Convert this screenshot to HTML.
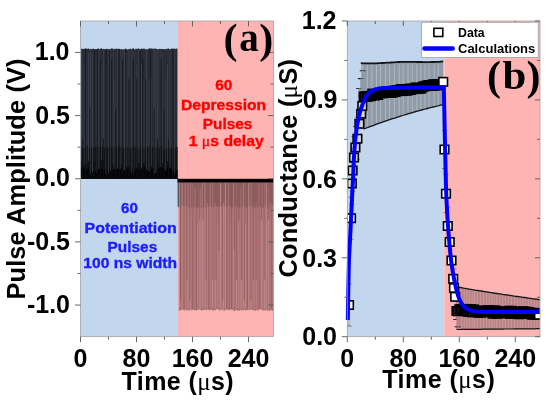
<!DOCTYPE html>
<html><head><meta charset="utf-8"><style>
html,body{margin:0;padding:0;background:#fff;width:550px;height:400px;overflow:hidden}
svg{display:block;filter:blur(0.3px)}
.s{font-family:"Liberation Sans",Arial,sans-serif;font-weight:bold}
.r{font-family:"Liberation Serif","Times New Roman",serif;font-weight:bold}
.m{font-family:"Liberation Serif","DejaVu Serif",serif;font-weight:normal}
</style></head><body>
<svg width="550" height="400" viewBox="0 0 550 400">
<rect width="550" height="400" fill="#fff"/>
<defs><clipPath id="cb"><rect x="347.3" y="21" width="192.7" height="315.7"/></clipPath><clipPath id="cc"><rect x="340" y="21" width="200" height="315.7"/></clipPath></defs>
<rect x="80.5" y="21.0" width="97.5" height="315.7" fill="#c2d6ee"/>
<rect x="178" y="21.0" width="95.5" height="315.7" fill="#ffb4b4"/>
<polygon fill="#282c34" points="81.2,178.7 81.2,48.5 82.8,48.9 82.8,48.7 84.4,49.0 84.4,49.0 86.0,48.3 86.0,48.2 87.6,49.3 87.6,48.5 89.2,48.5 89.2,49.5 90.8,48.8 90.8,49.3 92.4,48.8 92.4,49.0 94.0,48.4 94.0,49.0 95.6,49.3 95.6,48.9 97.2,49.2 97.2,49.1 98.8,48.3 98.8,49.2 100.4,49.0 100.4,48.6 102.0,48.2 102.0,49.3 103.6,48.8 103.6,49.1 105.2,49.3 105.2,49.1 106.8,49.4 106.8,48.7 108.4,49.2 108.4,48.8 110.0,49.4 110.0,49.3 111.6,48.3 111.6,48.4 113.2,48.5 113.2,49.5 114.8,48.8 114.8,49.0 116.4,48.6 116.4,48.9 118.0,48.7 118.0,48.7 119.6,49.0 119.6,49.0 121.2,49.4 121.2,49.1 122.8,49.4 122.8,49.3 124.4,49.5 124.4,49.1 126.0,48.4 126.0,49.3 127.6,49.5 127.6,49.4 129.2,48.9 129.2,49.1 130.8,48.5 130.8,49.3 132.4,48.9 132.4,48.6 134.0,48.3 134.0,49.3 135.6,49.5 135.6,48.3 137.2,49.2 137.2,48.7 138.8,48.4 138.8,48.6 140.4,49.2 140.4,49.3 142.0,48.3 142.0,49.0 143.6,48.3 143.6,49.1 145.2,48.6 145.2,49.3 146.8,49.5 146.8,48.9 148.4,49.5 148.4,48.6 150.0,48.3 150.0,49.0 151.6,48.2 151.6,48.5 153.2,48.7 153.2,49.0 154.8,48.4 154.8,48.3 156.4,49.3 156.4,48.6 158.0,49.4 158.0,49.4 159.6,48.7 159.6,48.8 161.2,48.9 161.2,49.0 162.8,49.0 162.8,48.9 164.4,49.0 164.4,49.4 166.0,48.9 166.0,48.8 167.6,49.1 167.6,48.5 169.2,48.6 169.2,49.5 170.8,48.9 170.8,48.9 172.4,48.2 172.4,48.7 174.0,49.0 174.0,48.2 175.6,49.0 175.6,49.0 177.2,48.3 177.2,49.0 177.5,48.8 177.5,48.8 177.5,178.7"/>
<polygon fill="#121316" points="81.2,178.7 81.2,148.2 82.5,146.9 83.8,148.3 85.1,148.5 86.4,145.6 87.7,145.7 89.0,148.2 90.3,149.4 91.6,146.5 92.9,147.3 94.2,147.9 95.5,146.8 96.8,147.0 98.1,146.8 99.4,147.0 100.7,147.9 102.0,146.7 103.3,147.0 104.6,148.6 105.9,145.6 107.2,147.8 108.5,148.4 109.8,146.7 111.1,146.4 112.4,148.7 113.7,146.5 115.0,146.2 116.3,147.2 117.6,148.3 118.9,145.9 120.2,146.8 121.5,146.8 122.8,148.8 124.1,147.3 125.4,148.9 126.7,146.2 128.0,146.8 129.3,148.1 130.6,149.0 131.9,147.3 133.2,146.4 134.5,146.0 135.8,147.6 137.1,146.3 138.4,148.7 139.7,148.9 141.0,146.2 142.3,146.6 143.6,148.7 144.9,148.1 146.2,148.7 147.5,146.9 148.8,146.0 150.1,146.7 151.4,148.7 152.7,146.6 154.0,146.9 155.3,147.2 156.6,147.2 157.9,147.1 159.2,149.2 160.5,146.1 161.8,145.5 163.1,149.3 164.4,149.0 165.7,149.4 167.0,147.2 168.3,149.3 169.6,149.2 170.9,146.4 172.2,148.5 173.5,148.8 174.8,148.2 176.1,147.6 177.4,146.7 177.5,147.5 177.5,178.7"/>
<polygon fill="#040404" points="81.2,178.7 81.2,168.2 82.5,167.6 83.8,166.8 85.1,169.4 86.4,167.9 87.7,170.6 89.0,166.7 90.3,171.0 91.6,170.0 92.9,171.1 94.2,171.0 95.5,171.0 96.8,169.4 98.1,166.6 99.4,170.2 100.7,167.4 102.0,168.0 103.3,169.8 104.6,169.1 105.9,168.6 107.2,171.2 108.5,169.6 109.8,168.2 111.1,167.8 112.4,170.8 113.7,168.9 115.0,170.4 116.3,168.3 117.6,167.5 118.9,169.2 120.2,170.6 121.5,167.4 122.8,170.5 124.1,171.1 125.4,170.5 126.7,170.6 128.0,166.5 129.3,169.6 130.6,170.8 131.9,166.7 133.2,167.9 134.5,167.8 135.8,169.1 137.1,168.6 138.4,168.9 139.7,170.4 141.0,166.5 142.3,166.8 143.6,167.1 144.9,167.1 146.2,166.8 147.5,171.4 148.8,170.8 150.1,166.9 151.4,169.0 152.7,168.1 154.0,168.1 155.3,168.3 156.6,169.7 157.9,169.4 159.2,168.3 160.5,167.5 161.8,168.1 163.1,167.1 164.4,169.3 165.7,170.1 167.0,168.4 168.3,166.9 169.6,167.4 170.9,168.4 172.2,169.5 173.5,170.4 174.8,168.4 176.1,170.5 177.4,169.6 177.5,169.0 177.5,178.7"/>
<line x1="81.8" y1="49.5" x2="81.8" y2="160.8" stroke="#373d46" stroke-width="0.8"/>
<line x1="84.1" y1="64.5" x2="84.1" y2="165.0" stroke="#373d46" stroke-width="0.8"/>
<line x1="86.3" y1="49.5" x2="86.3" y2="163.9" stroke="#373d46" stroke-width="0.8"/>
<line x1="88.4" y1="52.5" x2="88.4" y2="161.1" stroke="#414853" stroke-width="0.8"/>
<line x1="90.4" y1="49.5" x2="90.4" y2="174.1" stroke="#414853" stroke-width="0.8"/>
<line x1="92.6" y1="52.5" x2="92.6" y2="172.7" stroke="#414853" stroke-width="0.8"/>
<line x1="94.5" y1="64.5" x2="94.5" y2="162.0" stroke="#373d46" stroke-width="0.8"/>
<line x1="97.0" y1="52.5" x2="97.0" y2="172.7" stroke="#373d46" stroke-width="0.8"/>
<line x1="98.9" y1="49.5" x2="98.9" y2="169.0" stroke="#3b414b" stroke-width="0.8"/>
<line x1="101.5" y1="64.5" x2="101.5" y2="160.1" stroke="#3b414b" stroke-width="0.8"/>
<line x1="103.5" y1="49.5" x2="103.5" y2="160.7" stroke="#3b414b" stroke-width="0.8"/>
<line x1="105.9" y1="64.5" x2="105.9" y2="174.1" stroke="#3b414b" stroke-width="0.8"/>
<line x1="108.5" y1="49.5" x2="108.5" y2="173.5" stroke="#3b414b" stroke-width="0.8"/>
<line x1="110.3" y1="49.5" x2="110.3" y2="170.8" stroke="#373d46" stroke-width="0.8"/>
<line x1="113.1" y1="52.5" x2="113.1" y2="164.8" stroke="#3b414b" stroke-width="0.8"/>
<line x1="114.9" y1="79.5" x2="114.9" y2="169.0" stroke="#373d46" stroke-width="0.8"/>
<line x1="117.4" y1="49.5" x2="117.4" y2="168.9" stroke="#3b414b" stroke-width="0.8"/>
<line x1="120.2" y1="49.5" x2="120.2" y2="168.8" stroke="#373d46" stroke-width="0.8"/>
<line x1="122.2" y1="49.5" x2="122.2" y2="163.9" stroke="#3b414b" stroke-width="0.8"/>
<line x1="124.6" y1="49.5" x2="124.6" y2="169.9" stroke="#414853" stroke-width="0.8"/>
<line x1="126.7" y1="52.5" x2="126.7" y2="166.3" stroke="#414853" stroke-width="0.8"/>
<line x1="129.0" y1="49.5" x2="129.0" y2="166.0" stroke="#3b414b" stroke-width="0.8"/>
<line x1="131.8" y1="49.5" x2="131.8" y2="173.5" stroke="#3b414b" stroke-width="0.8"/>
<line x1="134.0" y1="52.5" x2="134.0" y2="172.1" stroke="#373d46" stroke-width="0.8"/>
<line x1="136.7" y1="64.5" x2="136.7" y2="167.7" stroke="#373d46" stroke-width="0.8"/>
<line x1="138.9" y1="49.5" x2="138.9" y2="162.6" stroke="#414853" stroke-width="0.8"/>
<line x1="141.5" y1="64.5" x2="141.5" y2="168.3" stroke="#414853" stroke-width="0.8"/>
<line x1="143.9" y1="79.5" x2="143.9" y2="163.0" stroke="#414853" stroke-width="0.8"/>
<line x1="146.4" y1="49.5" x2="146.4" y2="169.4" stroke="#414853" stroke-width="0.8"/>
<line x1="149.1" y1="79.5" x2="149.1" y2="171.1" stroke="#414853" stroke-width="0.8"/>
<line x1="151.6" y1="79.5" x2="151.6" y2="166.6" stroke="#373d46" stroke-width="0.8"/>
<line x1="154.0" y1="49.5" x2="154.0" y2="174.2" stroke="#414853" stroke-width="0.8"/>
<line x1="155.8" y1="49.5" x2="155.8" y2="172.9" stroke="#3b414b" stroke-width="0.8"/>
<line x1="157.8" y1="49.5" x2="157.8" y2="163.8" stroke="#414853" stroke-width="0.8"/>
<line x1="160.4" y1="49.5" x2="160.4" y2="166.7" stroke="#373d46" stroke-width="0.8"/>
<line x1="162.6" y1="52.5" x2="162.6" y2="163.3" stroke="#373d46" stroke-width="0.8"/>
<line x1="165.3" y1="79.5" x2="165.3" y2="170.4" stroke="#3b414b" stroke-width="0.8"/>
<line x1="167.6" y1="64.5" x2="167.6" y2="161.2" stroke="#414853" stroke-width="0.8"/>
<line x1="170.1" y1="49.5" x2="170.1" y2="167.5" stroke="#3b414b" stroke-width="0.8"/>
<line x1="172.8" y1="64.5" x2="172.8" y2="171.5" stroke="#373d46" stroke-width="0.8"/>
<line x1="174.7" y1="49.5" x2="174.7" y2="173.7" stroke="#3b414b" stroke-width="0.8"/>
<line x1="82.6" y1="138.8" x2="82.6" y2="178" stroke="#111316" stroke-width="0.8"/>
<line x1="85.7" y1="48.8" x2="85.7" y2="178" stroke="#111316" stroke-width="0.8"/>
<line x1="89.8" y1="108.8" x2="89.8" y2="178" stroke="#111316" stroke-width="0.8"/>
<line x1="94.4" y1="50.8" x2="94.4" y2="178" stroke="#111316" stroke-width="0.8"/>
<line x1="97.4" y1="48.8" x2="97.4" y2="178" stroke="#111316" stroke-width="0.8"/>
<line x1="100.7" y1="58.8" x2="100.7" y2="178" stroke="#111316" stroke-width="0.8"/>
<line x1="103.4" y1="138.8" x2="103.4" y2="178" stroke="#111316" stroke-width="0.8"/>
<line x1="106.1" y1="48.8" x2="106.1" y2="178" stroke="#111316" stroke-width="0.8"/>
<line x1="109.3" y1="50.8" x2="109.3" y2="178" stroke="#111316" stroke-width="0.8"/>
<line x1="111.8" y1="58.8" x2="111.8" y2="178" stroke="#111316" stroke-width="0.8"/>
<line x1="115.8" y1="108.8" x2="115.8" y2="178" stroke="#111316" stroke-width="0.8"/>
<line x1="119.1" y1="48.8" x2="119.1" y2="178" stroke="#111316" stroke-width="0.8"/>
<line x1="122.5" y1="58.8" x2="122.5" y2="178" stroke="#111316" stroke-width="0.8"/>
<line x1="125.9" y1="48.8" x2="125.9" y2="178" stroke="#111316" stroke-width="0.8"/>
<line x1="129.0" y1="78.8" x2="129.0" y2="178" stroke="#111316" stroke-width="0.8"/>
<line x1="133.3" y1="58.8" x2="133.3" y2="178" stroke="#111316" stroke-width="0.8"/>
<line x1="136.8" y1="78.8" x2="136.8" y2="178" stroke="#111316" stroke-width="0.8"/>
<line x1="140.1" y1="50.8" x2="140.1" y2="178" stroke="#111316" stroke-width="0.8"/>
<line x1="142.8" y1="58.8" x2="142.8" y2="178" stroke="#111316" stroke-width="0.8"/>
<line x1="145.6" y1="78.8" x2="145.6" y2="178" stroke="#111316" stroke-width="0.8"/>
<line x1="150.3" y1="48.8" x2="150.3" y2="178" stroke="#111316" stroke-width="0.8"/>
<line x1="154.1" y1="108.8" x2="154.1" y2="178" stroke="#111316" stroke-width="0.8"/>
<line x1="157.6" y1="138.8" x2="157.6" y2="178" stroke="#111316" stroke-width="0.8"/>
<line x1="161.0" y1="58.8" x2="161.0" y2="178" stroke="#111316" stroke-width="0.8"/>
<line x1="164.2" y1="108.8" x2="164.2" y2="178" stroke="#111316" stroke-width="0.8"/>
<line x1="168.4" y1="138.8" x2="168.4" y2="178" stroke="#111316" stroke-width="0.8"/>
<line x1="173.0" y1="48.8" x2="173.0" y2="178" stroke="#111316" stroke-width="0.8"/>
<polygon fill="#ab7273" points="178.8,182.0 178.8,311.1 180.4,310.5 180.4,310.2 182.0,309.2 182.0,310.1 183.6,309.8 183.6,310.6 185.2,310.5 185.2,310.2 186.8,309.4 186.8,310.4 188.4,310.4 188.4,309.4 190.0,311.0 190.0,310.4 191.6,309.3 191.6,311.1 193.2,309.3 193.2,309.7 194.8,310.6 194.8,310.3 196.4,310.2 196.4,310.4 198.0,310.0 198.0,309.7 199.6,309.4 199.6,309.2 201.2,310.6 201.2,310.7 202.8,310.2 202.8,310.6 204.4,309.8 204.4,309.6 206.0,309.8 206.0,310.9 207.6,309.1 207.6,310.1 209.2,309.5 209.2,310.7 210.8,309.8 210.8,309.7 212.4,309.9 212.4,310.2 214.0,310.7 214.0,309.8 215.6,310.9 215.6,309.2 217.2,309.6 217.2,309.2 218.8,309.2 218.8,310.7 220.4,310.6 220.4,309.4 222.0,309.4 222.0,309.9 223.6,310.6 223.6,310.8 225.2,310.6 225.2,310.3 226.8,309.3 226.8,309.9 228.4,309.4 228.4,310.2 230.0,310.3 230.0,309.4 231.6,309.6 231.6,310.7 233.2,309.1 233.2,310.8 234.8,311.0 234.8,311.1 236.4,309.8 236.4,310.2 238.0,310.3 238.0,310.4 239.6,311.1 239.6,310.5 241.2,309.7 241.2,310.9 242.8,310.1 242.8,310.3 244.4,310.6 244.4,309.0 246.0,310.7 246.0,310.5 247.6,310.1 247.6,310.2 249.2,310.0 249.2,309.4 250.8,310.2 250.8,309.1 252.4,310.1 252.4,310.4 254.0,310.0 254.0,310.2 255.6,311.1 255.6,311.0 257.2,309.3 257.2,310.7 258.8,310.4 258.8,309.1 260.4,309.8 260.4,309.5 262.0,309.2 262.0,310.2 263.6,311.0 263.6,309.7 265.2,310.9 265.2,310.5 266.8,309.3 266.8,310.9 268.4,310.3 268.4,311.0 270.0,310.6 270.0,310.6 271.6,309.8 271.6,310.8 273.2,311.0 273.2,310.9 273.3,310.0 273.3,310.0 273.3,182.0"/>
<polygon fill="#8f5e5f" points="178.8,182.0 178.8,208.5 180.1,207.4 181.4,205.9 182.7,205.7 184.0,205.8 185.3,206.3 186.6,206.1 187.9,207.5 189.2,208.3 190.5,207.6 191.8,207.2 193.1,208.1 194.4,206.7 195.7,207.4 197.0,208.5 198.3,207.1 199.6,206.2 200.9,209.1 202.2,208.4 203.5,207.0 204.8,207.0 206.1,207.6 207.4,207.9 208.7,206.4 210.0,205.5 211.3,206.3 212.6,208.6 213.9,206.1 215.2,207.3 216.5,206.3 217.8,206.3 219.1,206.2 220.4,207.1 221.7,206.2 223.0,205.6 224.3,205.9 225.6,206.2 226.9,207.5 228.2,205.7 229.5,205.6 230.8,207.3 232.1,207.1 233.4,208.3 234.7,205.7 236.0,207.1 237.3,207.1 238.6,205.6 239.9,209.4 241.2,206.4 242.5,205.9 243.8,207.4 245.1,206.2 246.4,208.0 247.7,206.9 249.0,206.0 250.3,205.7 251.6,208.4 252.9,206.6 254.2,208.7 255.5,207.4 256.8,209.2 258.1,206.7 259.4,206.5 260.7,206.6 262.0,208.8 263.3,208.0 264.6,206.9 265.9,205.9 267.2,208.2 268.5,209.4 269.8,207.9 271.1,205.5 272.4,205.6 273.3,207.5 273.3,182.0"/>
<line x1="179.5" y1="183.0" x2="179.5" y2="307.2" stroke="#c99293" stroke-width="0.8"/>
<line x1="182.2" y1="183.0" x2="182.2" y2="309.7" stroke="#c48c8d" stroke-width="0.8"/>
<line x1="184.9" y1="183.0" x2="184.9" y2="309.8" stroke="#c99293" stroke-width="0.8"/>
<line x1="187.9" y1="183.0" x2="187.9" y2="307.9" stroke="#c99293" stroke-width="0.8"/>
<line x1="190.5" y1="183.0" x2="190.5" y2="309.8" stroke="#c48c8d" stroke-width="0.8"/>
<line x1="192.6" y1="183.0" x2="192.6" y2="308.5" stroke="#c48c8d" stroke-width="0.8"/>
<line x1="195.2" y1="188.0" x2="195.2" y2="309.3" stroke="#bd8586" stroke-width="0.8"/>
<line x1="197.6" y1="223.0" x2="197.6" y2="309.6" stroke="#bd8586" stroke-width="0.8"/>
<line x1="200.0" y1="188.0" x2="200.0" y2="309.8" stroke="#c99293" stroke-width="0.8"/>
<line x1="202.3" y1="183.0" x2="202.3" y2="307.7" stroke="#c99293" stroke-width="0.8"/>
<line x1="205.1" y1="183.0" x2="205.1" y2="307.8" stroke="#c99293" stroke-width="0.8"/>
<line x1="207.3" y1="203.0" x2="207.3" y2="309.7" stroke="#bd8586" stroke-width="0.8"/>
<line x1="210.0" y1="183.0" x2="210.0" y2="307.5" stroke="#c48c8d" stroke-width="0.8"/>
<line x1="212.7" y1="183.0" x2="212.7" y2="307.3" stroke="#c99293" stroke-width="0.8"/>
<line x1="215.4" y1="203.0" x2="215.4" y2="308.0" stroke="#c48c8d" stroke-width="0.8"/>
<line x1="218.0" y1="223.0" x2="218.0" y2="307.2" stroke="#bd8586" stroke-width="0.8"/>
<line x1="220.6" y1="183.0" x2="220.6" y2="308.4" stroke="#c99293" stroke-width="0.8"/>
<line x1="223.5" y1="203.0" x2="223.5" y2="310.0" stroke="#c99293" stroke-width="0.8"/>
<line x1="225.5" y1="183.0" x2="225.5" y2="309.4" stroke="#c99293" stroke-width="0.8"/>
<line x1="228.4" y1="183.0" x2="228.4" y2="307.9" stroke="#bd8586" stroke-width="0.8"/>
<line x1="230.8" y1="223.0" x2="230.8" y2="307.6" stroke="#bd8586" stroke-width="0.8"/>
<line x1="233.5" y1="183.0" x2="233.5" y2="307.4" stroke="#bd8586" stroke-width="0.8"/>
<line x1="236.5" y1="183.0" x2="236.5" y2="307.9" stroke="#c48c8d" stroke-width="0.8"/>
<line x1="238.7" y1="223.0" x2="238.7" y2="308.5" stroke="#bd8586" stroke-width="0.8"/>
<line x1="241.2" y1="188.0" x2="241.2" y2="309.4" stroke="#c99293" stroke-width="0.8"/>
<line x1="243.8" y1="183.0" x2="243.8" y2="307.5" stroke="#c99293" stroke-width="0.8"/>
<line x1="245.8" y1="223.0" x2="245.8" y2="308.8" stroke="#c48c8d" stroke-width="0.8"/>
<line x1="248.7" y1="183.0" x2="248.7" y2="309.8" stroke="#c48c8d" stroke-width="0.8"/>
<line x1="251.0" y1="183.0" x2="251.0" y2="308.2" stroke="#c99293" stroke-width="0.8"/>
<line x1="253.8" y1="203.0" x2="253.8" y2="307.3" stroke="#bd8586" stroke-width="0.8"/>
<line x1="256.3" y1="203.0" x2="256.3" y2="308.0" stroke="#bd8586" stroke-width="0.8"/>
<line x1="258.9" y1="183.0" x2="258.9" y2="307.9" stroke="#c48c8d" stroke-width="0.8"/>
<line x1="261.8" y1="183.0" x2="261.8" y2="307.6" stroke="#c99293" stroke-width="0.8"/>
<line x1="264.4" y1="183.0" x2="264.4" y2="309.2" stroke="#c99293" stroke-width="0.8"/>
<line x1="266.4" y1="183.0" x2="266.4" y2="308.5" stroke="#c48c8d" stroke-width="0.8"/>
<line x1="268.5" y1="188.0" x2="268.5" y2="309.2" stroke="#bd8586" stroke-width="0.8"/>
<line x1="270.9" y1="203.0" x2="270.9" y2="308.8" stroke="#c48c8d" stroke-width="0.8"/>
<line x1="180.5" y1="183" x2="180.5" y2="300.0" stroke="#8a5859" stroke-width="0.7"/>
<line x1="184.2" y1="183" x2="184.2" y2="309.0" stroke="#8a5859" stroke-width="0.7"/>
<line x1="187.0" y1="183" x2="187.0" y2="280.0" stroke="#8a5859" stroke-width="0.7"/>
<line x1="190.0" y1="183" x2="190.0" y2="300.0" stroke="#8a5859" stroke-width="0.7"/>
<line x1="192.6" y1="183" x2="192.6" y2="309.0" stroke="#8a5859" stroke-width="0.7"/>
<line x1="196.1" y1="183" x2="196.1" y2="309.0" stroke="#8a5859" stroke-width="0.7"/>
<line x1="199.7" y1="183" x2="199.7" y2="220.0" stroke="#8a5859" stroke-width="0.7"/>
<line x1="203.0" y1="183" x2="203.0" y2="220.0" stroke="#8a5859" stroke-width="0.7"/>
<line x1="206.1" y1="183" x2="206.1" y2="280.0" stroke="#8a5859" stroke-width="0.7"/>
<line x1="209.0" y1="183" x2="209.0" y2="309.0" stroke="#8a5859" stroke-width="0.7"/>
<line x1="212.8" y1="183" x2="212.8" y2="280.0" stroke="#8a5859" stroke-width="0.7"/>
<line x1="215.9" y1="183" x2="215.9" y2="280.0" stroke="#8a5859" stroke-width="0.7"/>
<line x1="218.9" y1="183" x2="218.9" y2="250.0" stroke="#8a5859" stroke-width="0.7"/>
<line x1="222.8" y1="183" x2="222.8" y2="300.0" stroke="#8a5859" stroke-width="0.7"/>
<line x1="226.7" y1="183" x2="226.7" y2="309.0" stroke="#8a5859" stroke-width="0.7"/>
<line x1="229.2" y1="183" x2="229.2" y2="309.0" stroke="#8a5859" stroke-width="0.7"/>
<line x1="231.5" y1="183" x2="231.5" y2="309.0" stroke="#8a5859" stroke-width="0.7"/>
<line x1="234.2" y1="183" x2="234.2" y2="250.0" stroke="#8a5859" stroke-width="0.7"/>
<line x1="236.5" y1="183" x2="236.5" y2="280.0" stroke="#8a5859" stroke-width="0.7"/>
<line x1="238.8" y1="183" x2="238.8" y2="220.0" stroke="#8a5859" stroke-width="0.7"/>
<line x1="241.4" y1="183" x2="241.4" y2="280.0" stroke="#8a5859" stroke-width="0.7"/>
<line x1="244.3" y1="183" x2="244.3" y2="300.0" stroke="#8a5859" stroke-width="0.7"/>
<line x1="247.4" y1="183" x2="247.4" y2="309.0" stroke="#8a5859" stroke-width="0.7"/>
<line x1="250.9" y1="183" x2="250.9" y2="300.0" stroke="#8a5859" stroke-width="0.7"/>
<line x1="253.4" y1="183" x2="253.4" y2="280.0" stroke="#8a5859" stroke-width="0.7"/>
<line x1="256.1" y1="183" x2="256.1" y2="280.0" stroke="#8a5859" stroke-width="0.7"/>
<line x1="259.1" y1="183" x2="259.1" y2="309.0" stroke="#8a5859" stroke-width="0.7"/>
<line x1="261.6" y1="183" x2="261.6" y2="220.0" stroke="#8a5859" stroke-width="0.7"/>
<line x1="264.3" y1="183" x2="264.3" y2="280.0" stroke="#8a5859" stroke-width="0.7"/>
<line x1="268.3" y1="183" x2="268.3" y2="220.0" stroke="#8a5859" stroke-width="0.7"/>
<line x1="271.2" y1="183" x2="271.2" y2="309.0" stroke="#8a5859" stroke-width="0.7"/>
<rect x="177.6" y="178.7" width="1.6" height="28" fill="#55595f"/>
<rect x="177.5" y="178.8" width="96" height="3.6" fill="#000"/>
<rect x="80.5" y="21.0" width="193.0" height="315.7" fill="none" stroke="#a3a3a3" stroke-width="0.8"/>
<line x1="75.0" y1="305.05" x2="80.5" y2="305.05" stroke="#5a5a5a" stroke-width="0.9"/>
<line x1="268.0" y1="305.05" x2="273.5" y2="305.05" stroke="#5a5a5a" stroke-width="0.9"/>
<line x1="75.0" y1="241.90" x2="80.5" y2="241.90" stroke="#5a5a5a" stroke-width="0.9"/>
<line x1="268.0" y1="241.90" x2="273.5" y2="241.90" stroke="#5a5a5a" stroke-width="0.9"/>
<line x1="75.0" y1="178.75" x2="80.5" y2="178.75" stroke="#5a5a5a" stroke-width="0.9"/>
<line x1="268.0" y1="178.75" x2="273.5" y2="178.75" stroke="#5a5a5a" stroke-width="0.9"/>
<line x1="75.0" y1="115.60" x2="80.5" y2="115.60" stroke="#5a5a5a" stroke-width="0.9"/>
<line x1="268.0" y1="115.60" x2="273.5" y2="115.60" stroke="#5a5a5a" stroke-width="0.9"/>
<line x1="75.0" y1="52.45" x2="80.5" y2="52.45" stroke="#5a5a5a" stroke-width="0.9"/>
<line x1="268.0" y1="52.45" x2="273.5" y2="52.45" stroke="#5a5a5a" stroke-width="0.9"/>
<line x1="77.5" y1="273.48" x2="80.5" y2="273.48" stroke="#5a5a5a" stroke-width="0.9"/>
<line x1="270.5" y1="273.48" x2="273.5" y2="273.48" stroke="#5a5a5a" stroke-width="0.9"/>
<line x1="77.5" y1="210.32" x2="80.5" y2="210.32" stroke="#5a5a5a" stroke-width="0.9"/>
<line x1="270.5" y1="210.32" x2="273.5" y2="210.32" stroke="#5a5a5a" stroke-width="0.9"/>
<line x1="77.5" y1="147.18" x2="80.5" y2="147.18" stroke="#5a5a5a" stroke-width="0.9"/>
<line x1="270.5" y1="147.18" x2="273.5" y2="147.18" stroke="#5a5a5a" stroke-width="0.9"/>
<line x1="77.5" y1="84.03" x2="80.5" y2="84.03" stroke="#5a5a5a" stroke-width="0.9"/>
<line x1="270.5" y1="84.03" x2="273.5" y2="84.03" stroke="#5a5a5a" stroke-width="0.9"/>
<line x1="80.50" y1="336.7" x2="80.50" y2="342.2" stroke="#5a5a5a" stroke-width="0.9"/>
<line x1="80.50" y1="21.0" x2="80.50" y2="26.5" stroke="#5a5a5a" stroke-width="0.9"/>
<line x1="136.50" y1="336.7" x2="136.50" y2="342.2" stroke="#5a5a5a" stroke-width="0.9"/>
<line x1="136.50" y1="21.0" x2="136.50" y2="26.5" stroke="#5a5a5a" stroke-width="0.9"/>
<line x1="192.50" y1="336.7" x2="192.50" y2="342.2" stroke="#5a5a5a" stroke-width="0.9"/>
<line x1="192.50" y1="21.0" x2="192.50" y2="26.5" stroke="#5a5a5a" stroke-width="0.9"/>
<line x1="248.50" y1="336.7" x2="248.50" y2="342.2" stroke="#5a5a5a" stroke-width="0.9"/>
<line x1="248.50" y1="21.0" x2="248.50" y2="26.5" stroke="#5a5a5a" stroke-width="0.9"/>
<line x1="108.50" y1="336.7" x2="108.50" y2="339.7" stroke="#5a5a5a" stroke-width="0.9"/>
<line x1="108.50" y1="21.0" x2="108.50" y2="24.0" stroke="#5a5a5a" stroke-width="0.9"/>
<line x1="164.50" y1="336.7" x2="164.50" y2="339.7" stroke="#5a5a5a" stroke-width="0.9"/>
<line x1="164.50" y1="21.0" x2="164.50" y2="24.0" stroke="#5a5a5a" stroke-width="0.9"/>
<line x1="220.50" y1="336.7" x2="220.50" y2="339.7" stroke="#5a5a5a" stroke-width="0.9"/>
<line x1="220.50" y1="21.0" x2="220.50" y2="24.0" stroke="#5a5a5a" stroke-width="0.9"/>
<rect x="347.3" y="21.0" width="97.0" height="315.7" fill="#c2d6ee"/>
<rect x="444.3" y="21.0" width="95.69999999999999" height="315.7" fill="#ffb4b4"/>
<g clip-path="url(#cb)">
<polygon fill="#909ba7" points="361.2,63.2 363.6,63.3 365.1,63.3 366.5,63.3 367.9,63.3 369.4,63.3 370.8,63.3 372.3,63.3 373.7,63.3 375.2,63.3 376.6,63.3 378.1,63.2 379.5,63.1 381.0,63.1 382.4,63.0 383.9,62.9 385.3,62.8 386.8,62.7 388.2,62.7 389.7,62.6 391.1,62.5 392.6,62.4 394.0,62.3 395.5,62.2 396.9,62.1 398.4,62.0 399.8,62.0 401.3,61.9 402.7,61.9 404.2,61.9 405.6,61.8 407.1,61.8 408.5,61.8 410.0,61.8 411.4,61.8 412.9,61.9 414.3,61.9 415.8,61.9 417.2,62.0 418.7,62.0 420.1,62.0 421.6,62.0 423.0,62.1 424.5,62.1 425.9,62.1 427.4,62.1 428.8,62.1 430.3,62.1 431.7,62.0 433.2,62.0 434.6,62.0 436.1,61.9 437.5,61.8 439.0,61.8 440.4,61.7 443.2,61.5 443.2,104.6 440.4,105.2 439.0,105.6 437.5,105.9 436.1,106.3 434.6,106.6 433.2,107.0 431.7,107.4 430.3,107.7 428.8,108.1 427.4,108.5 425.9,108.9 424.5,109.2 423.0,109.6 421.6,110.0 420.1,110.4 418.7,110.8 417.2,111.2 415.8,111.6 414.3,112.0 412.9,112.5 411.4,112.9 410.0,113.3 408.5,113.7 407.1,114.2 405.6,114.6 404.2,115.0 402.7,115.5 401.3,115.9 399.8,116.4 398.4,116.9 396.9,117.3 395.5,117.8 394.0,118.3 392.6,118.7 391.1,119.2 389.7,119.7 388.2,120.2 386.8,120.7 385.3,121.2 383.9,121.7 382.4,122.2 381.0,122.7 379.5,123.2 378.1,123.7 376.6,124.2 375.2,124.7 373.7,125.3 372.3,125.8 370.8,126.3 369.4,126.9 367.9,127.4 366.5,128.0 365.1,128.5 363.6,129.1 361.2,129.1"/>
<line x1="363.0" y1="64.5" x2="363.0" y2="128.3" stroke="#adb8c4" stroke-width="1.0"/>
<line x1="367.3" y1="64.5" x2="367.3" y2="126.7" stroke="#adb8c4" stroke-width="1.0"/>
<line x1="371.8" y1="64.5" x2="371.8" y2="125.0" stroke="#adb8c4" stroke-width="1.0"/>
<line x1="376.5" y1="64.5" x2="376.5" y2="123.3" stroke="#adb8c4" stroke-width="1.0"/>
<line x1="380.6" y1="64.5" x2="380.6" y2="121.8" stroke="#adb8c4" stroke-width="1.0"/>
<line x1="385.5" y1="64.5" x2="385.5" y2="120.1" stroke="#adb8c4" stroke-width="1.0"/>
<line x1="389.6" y1="64.5" x2="389.6" y2="118.7" stroke="#adb8c4" stroke-width="1.0"/>
<line x1="394.3" y1="64.5" x2="394.3" y2="117.2" stroke="#adb8c4" stroke-width="1.0"/>
<line x1="399.2" y1="64.5" x2="399.2" y2="115.6" stroke="#adb8c4" stroke-width="1.0"/>
<line x1="403.2" y1="64.5" x2="403.2" y2="114.4" stroke="#adb8c4" stroke-width="1.0"/>
<line x1="408.0" y1="64.5" x2="408.0" y2="112.9" stroke="#adb8c4" stroke-width="1.0"/>
<line x1="412.3" y1="64.5" x2="412.3" y2="111.6" stroke="#adb8c4" stroke-width="1.0"/>
<line x1="416.9" y1="64.5" x2="416.9" y2="110.3" stroke="#adb8c4" stroke-width="1.0"/>
<line x1="420.9" y1="64.5" x2="420.9" y2="109.2" stroke="#adb8c4" stroke-width="1.0"/>
<line x1="425.0" y1="64.5" x2="425.0" y2="108.1" stroke="#adb8c4" stroke-width="1.0"/>
<line x1="429.1" y1="64.5" x2="429.1" y2="107.0" stroke="#adb8c4" stroke-width="1.0"/>
<line x1="434.1" y1="64.5" x2="434.1" y2="105.8" stroke="#adb8c4" stroke-width="1.0"/>
<line x1="438.3" y1="64.5" x2="438.3" y2="104.7" stroke="#adb8c4" stroke-width="1.0"/>
<polyline fill="none" stroke="#151515" stroke-width="1.8" stroke-linejoin="round" points="360.8,63.2 363.6,63.3 365.1,63.3 366.5,63.3 367.9,63.3 369.4,63.3 370.8,63.3 372.3,63.3 373.7,63.3 375.2,63.3 376.6,63.3 378.1,63.2 379.5,63.1 381.0,63.1 382.4,63.0 383.9,62.9 385.3,62.8 386.8,62.7 388.2,62.7 389.7,62.6 391.1,62.5 392.6,62.4 394.0,62.3 395.5,62.2 396.9,62.1 398.4,62.0 399.8,62.0 401.3,61.9 402.7,61.9 404.2,61.9 405.6,61.8 407.1,61.8 408.5,61.8 410.0,61.8 411.4,61.8 412.9,61.9 414.3,61.9 415.8,61.9 417.2,62.0 418.7,62.0 420.1,62.0 421.6,62.0 423.0,62.1 424.5,62.1 425.9,62.1 427.4,62.1 428.8,62.1 430.3,62.1 431.7,62.0 433.2,62.0 434.6,62.0 436.1,61.9 437.5,61.8 439.0,61.8 440.4,61.7 443.2,61.5"/>
<polyline fill="none" stroke="#151515" stroke-width="1.3" stroke-linejoin="round" points="363.6,129.1 365.1,128.5 366.5,128.0 367.9,127.4 369.4,126.9 370.8,126.3 372.3,125.8 373.7,125.3 375.2,124.7 376.6,124.2 378.1,123.7 379.5,123.2 381.0,122.7 382.4,122.2 383.9,121.7 385.3,121.2 386.8,120.7 388.2,120.2 389.7,119.7 391.1,119.2 392.6,118.7 394.0,118.3 395.5,117.8 396.9,117.3 398.4,116.9 399.8,116.4 401.3,115.9 402.7,115.5 404.2,115.0 405.6,114.6 407.1,114.2 408.5,113.7 410.0,113.3 411.4,112.9 412.9,112.5 414.3,112.0 415.8,111.6 417.2,111.2 418.7,110.8 420.1,110.4 421.6,110.0 423.0,109.6 424.5,109.2 425.9,108.9 427.4,108.5 428.8,108.1 430.3,107.7 431.7,107.4 433.2,107.0 434.6,106.6 436.1,106.3 437.5,105.9 439.0,105.6 440.4,105.2 443.2,104.6"/>
<line x1="359.7" y1="70.7" x2="365.3" y2="70.7" stroke="#222" stroke-width="1.1"/>
<rect x="362.0" y="70.7" width="1.6" height="24.3" fill="#909ba7"/>
<line x1="357.9" y1="78.6" x2="363.5" y2="78.6" stroke="#222" stroke-width="1.1"/>
<rect x="360.2" y="78.6" width="3.4" height="16.4" fill="#909ba7"/>
<line x1="356.2" y1="88.5" x2="361.8" y2="88.5" stroke="#222" stroke-width="1.1"/>
<rect x="358.5" y="88.5" width="5.1" height="6.5" fill="#909ba7"/>
<line x1="346.5" y1="284.0" x2="351.5" y2="284.0" stroke="#555" stroke-width="0.8"/>
<line x1="346.5" y1="326.0" x2="351.5" y2="326.0" stroke="#555" stroke-width="0.8"/>
<line x1="349.0" y1="284.0" x2="349.0" y2="326.0" stroke="#777" stroke-width="0.5"/>
<line x1="348.5" y1="197.2" x2="353.5" y2="197.2" stroke="#555" stroke-width="0.8"/>
<line x1="348.5" y1="239.2" x2="353.5" y2="239.2" stroke="#555" stroke-width="0.8"/>
<line x1="351.0" y1="197.2" x2="351.0" y2="239.2" stroke="#777" stroke-width="0.5"/>
<line x1="349.3" y1="162.5" x2="354.3" y2="162.5" stroke="#555" stroke-width="0.8"/>
<line x1="349.3" y1="204.5" x2="354.3" y2="204.5" stroke="#555" stroke-width="0.8"/>
<line x1="351.8" y1="162.5" x2="351.8" y2="204.5" stroke="#777" stroke-width="0.5"/>
<line x1="350.1" y1="149.5" x2="355.1" y2="149.5" stroke="#555" stroke-width="0.8"/>
<line x1="350.1" y1="191.5" x2="355.1" y2="191.5" stroke="#555" stroke-width="0.8"/>
<line x1="352.6" y1="149.5" x2="352.6" y2="191.5" stroke="#777" stroke-width="0.5"/>
<line x1="351.5" y1="136.5" x2="356.5" y2="136.5" stroke="#555" stroke-width="0.8"/>
<line x1="351.5" y1="178.5" x2="356.5" y2="178.5" stroke="#555" stroke-width="0.8"/>
<line x1="354.0" y1="136.5" x2="354.0" y2="178.5" stroke="#777" stroke-width="0.5"/>
<line x1="352.9" y1="126.5" x2="357.9" y2="126.5" stroke="#555" stroke-width="0.8"/>
<line x1="352.9" y1="168.5" x2="357.9" y2="168.5" stroke="#555" stroke-width="0.8"/>
<line x1="355.4" y1="126.5" x2="355.4" y2="168.5" stroke="#777" stroke-width="0.5"/>
<line x1="354.9" y1="117.7" x2="359.9" y2="117.7" stroke="#555" stroke-width="0.8"/>
<line x1="354.9" y1="159.7" x2="359.9" y2="159.7" stroke="#555" stroke-width="0.8"/>
<line x1="357.4" y1="117.7" x2="357.4" y2="159.7" stroke="#777" stroke-width="0.5"/>
<polygon fill="#b98385" points="458.6,287.0 459.4,287.2 460.8,287.5 462.3,287.8 463.7,288.1 465.2,288.3 466.6,288.6 468.1,288.8 469.5,289.1 471.0,289.3 472.4,289.6 473.9,289.8 475.3,290.1 476.8,290.3 478.2,290.5 479.7,290.8 481.1,291.0 482.6,291.2 484.0,291.5 485.5,291.7 486.9,291.9 488.4,292.1 489.8,292.4 491.3,292.6 492.7,292.8 494.2,293.0 495.6,293.3 497.1,293.5 498.5,293.7 500.0,293.9 501.4,294.1 502.9,294.4 504.3,294.6 505.8,294.8 507.2,295.0 508.7,295.2 510.1,295.4 511.6,295.6 513.0,295.9 514.5,296.1 515.9,296.3 517.4,296.5 518.8,296.7 520.3,296.9 521.7,297.1 523.2,297.3 524.6,297.5 526.1,297.7 527.6,298.0 529.0,298.2 530.5,298.4 531.9,298.6 533.4,298.8 534.8,299.0 536.3,299.2 541.0,299.9 541.0,328.7 536.3,328.7 534.8,328.8 533.4,328.8 531.9,328.8 530.5,328.8 529.0,328.8 527.6,328.8 526.1,328.8 524.6,328.9 523.2,328.9 521.7,328.9 520.3,328.9 518.8,328.9 517.4,328.9 515.9,328.9 514.5,328.9 513.0,329.0 511.6,329.0 510.1,329.0 508.7,329.0 507.2,329.0 505.8,329.0 504.3,329.0 502.9,329.1 501.4,329.1 500.0,329.1 498.5,329.1 497.1,329.1 495.6,329.1 494.2,329.1 492.7,329.2 491.3,329.2 489.8,329.2 488.4,329.2 486.9,329.2 485.5,329.2 484.0,329.2 482.6,329.2 481.1,329.3 479.7,329.3 478.2,329.3 476.8,329.3 475.3,329.3 473.9,329.3 472.4,329.3 471.0,329.4 469.5,329.4 468.1,329.4 466.6,329.4 465.2,329.4 463.7,329.4 462.3,329.4 460.8,329.5 459.4,329.5 457.9,329.5 456.5,329.5 456.0,329.5"/>
<line x1="458.5" y1="288.2" x2="458.5" y2="328.0" stroke="#d2a0a1" stroke-width="0.8"/>
<line x1="461.2" y1="288.8" x2="461.2" y2="328.0" stroke="#d2a0a1" stroke-width="0.8"/>
<line x1="464.2" y1="289.3" x2="464.2" y2="328.0" stroke="#d2a0a1" stroke-width="0.8"/>
<line x1="466.9" y1="289.8" x2="466.9" y2="328.0" stroke="#d2a0a1" stroke-width="0.8"/>
<line x1="469.5" y1="290.3" x2="469.5" y2="328.0" stroke="#d2a0a1" stroke-width="0.8"/>
<line x1="472.2" y1="290.7" x2="472.2" y2="328.0" stroke="#d2a0a1" stroke-width="0.8"/>
<line x1="474.6" y1="291.1" x2="474.6" y2="328.0" stroke="#d2a0a1" stroke-width="0.8"/>
<line x1="477.2" y1="291.6" x2="477.2" y2="328.0" stroke="#d2a0a1" stroke-width="0.8"/>
<line x1="480.4" y1="292.1" x2="480.4" y2="328.0" stroke="#d2a0a1" stroke-width="0.8"/>
<line x1="483.6" y1="292.6" x2="483.6" y2="328.0" stroke="#d2a0a1" stroke-width="0.8"/>
<line x1="486.4" y1="293.0" x2="486.4" y2="328.0" stroke="#d2a0a1" stroke-width="0.8"/>
<line x1="489.2" y1="293.5" x2="489.2" y2="328.0" stroke="#d2a0a1" stroke-width="0.8"/>
<line x1="491.8" y1="293.9" x2="491.8" y2="328.0" stroke="#d2a0a1" stroke-width="0.8"/>
<line x1="494.2" y1="294.2" x2="494.2" y2="328.0" stroke="#d2a0a1" stroke-width="0.8"/>
<line x1="496.7" y1="294.6" x2="496.7" y2="328.0" stroke="#d2a0a1" stroke-width="0.8"/>
<line x1="499.7" y1="295.1" x2="499.7" y2="328.0" stroke="#d2a0a1" stroke-width="0.8"/>
<line x1="502.8" y1="295.5" x2="502.8" y2="328.0" stroke="#d2a0a1" stroke-width="0.8"/>
<line x1="505.4" y1="295.9" x2="505.4" y2="328.0" stroke="#d2a0a1" stroke-width="0.8"/>
<line x1="508.4" y1="296.4" x2="508.4" y2="328.0" stroke="#d2a0a1" stroke-width="0.8"/>
<line x1="511.4" y1="296.8" x2="511.4" y2="328.0" stroke="#d2a0a1" stroke-width="0.8"/>
<line x1="514.4" y1="297.2" x2="514.4" y2="328.0" stroke="#d2a0a1" stroke-width="0.8"/>
<line x1="517.3" y1="297.7" x2="517.3" y2="328.0" stroke="#d2a0a1" stroke-width="0.8"/>
<line x1="520.2" y1="298.1" x2="520.2" y2="328.0" stroke="#d2a0a1" stroke-width="0.8"/>
<line x1="522.9" y1="298.5" x2="522.9" y2="328.0" stroke="#d2a0a1" stroke-width="0.8"/>
<line x1="525.8" y1="298.9" x2="525.8" y2="328.0" stroke="#d2a0a1" stroke-width="0.8"/>
<line x1="528.4" y1="299.3" x2="528.4" y2="328.0" stroke="#d2a0a1" stroke-width="0.8"/>
<line x1="531.1" y1="299.7" x2="531.1" y2="328.0" stroke="#d2a0a1" stroke-width="0.8"/>
<line x1="534.1" y1="300.1" x2="534.1" y2="328.0" stroke="#d2a0a1" stroke-width="0.8"/>
<line x1="537.0" y1="300.5" x2="537.0" y2="328.0" stroke="#d2a0a1" stroke-width="0.8"/>
<line x1="539.6" y1="300.9" x2="539.6" y2="328.0" stroke="#d2a0a1" stroke-width="0.8"/>
<polyline fill="none" stroke="#151515" stroke-width="1.3" stroke-linejoin="round" points="458.6,300.0 458.6,287.0 459.4,287.2 460.8,287.5 462.3,287.8 463.7,288.1 465.2,288.3 466.6,288.6 468.1,288.8 469.5,289.1 471.0,289.3 472.4,289.6 473.9,289.8 475.3,290.1 476.8,290.3 478.2,290.5 479.7,290.8 481.1,291.0 482.6,291.2 484.0,291.5 485.5,291.7 486.9,291.9 488.4,292.1 489.8,292.4 491.3,292.6 492.7,292.8 494.2,293.0 495.6,293.3 497.1,293.5 498.5,293.7 500.0,293.9 501.4,294.1 502.9,294.4 504.3,294.6 505.8,294.8 507.2,295.0 508.7,295.2 510.1,295.4 511.6,295.6 513.0,295.9 514.5,296.1 515.9,296.3 517.4,296.5 518.8,296.7 520.3,296.9 521.7,297.1 523.2,297.3 524.6,297.5 526.1,297.7 527.6,298.0 529.0,298.2 530.5,298.4 531.9,298.6 533.4,298.8 534.8,299.0 536.3,299.2 541.0,299.9"/>
<polyline fill="none" stroke="#151515" stroke-width="1.2" stroke-linejoin="round" points="456.5,329.5 457.9,329.5 459.4,329.5 460.8,329.5 462.3,329.4 463.7,329.4 465.2,329.4 466.6,329.4 468.1,329.4 469.5,329.4 471.0,329.4 472.4,329.3 473.9,329.3 475.3,329.3 476.8,329.3 478.2,329.3 479.7,329.3 481.1,329.3 482.6,329.2 484.0,329.2 485.5,329.2 486.9,329.2 488.4,329.2 489.8,329.2 491.3,329.2 492.7,329.2 494.2,329.1 495.6,329.1 497.1,329.1 498.5,329.1 500.0,329.1 501.4,329.1 502.9,329.1 504.3,329.0 505.8,329.0 507.2,329.0 508.7,329.0 510.1,329.0 511.6,329.0 513.0,329.0 514.5,328.9 515.9,328.9 517.4,328.9 518.8,328.9 520.3,328.9 521.7,328.9 523.2,328.9 524.6,328.9 526.1,328.8 527.6,328.8 529.0,328.8 530.5,328.8 531.9,328.8 533.4,328.8 534.8,328.8 536.3,328.7 541.0,328.7"/>
<line x1="453.2" y1="319.5" x2="459.2" y2="319.5" stroke="#222" stroke-width="1"/>
<rect x="455.7" y="300" width="2.0" height="19.5" fill="#b98385"/>
<line x1="454.5" y1="326.8" x2="460.5" y2="326.8" stroke="#222" stroke-width="1"/>
<rect x="457.0" y="300" width="2.0" height="26.8" fill="#b98385"/>
<line x1="442.0" y1="130.5" x2="447.0" y2="130.5" stroke="#7a5a5a" stroke-width="0.8"/>
<line x1="442.0" y1="168.5" x2="447.0" y2="168.5" stroke="#7a5a5a" stroke-width="0.8"/>
<line x1="443.5" y1="174.7" x2="448.5" y2="174.7" stroke="#7a5a5a" stroke-width="0.8"/>
<line x1="443.5" y1="212.7" x2="448.5" y2="212.7" stroke="#7a5a5a" stroke-width="0.8"/>
<line x1="445.3" y1="207.0" x2="450.3" y2="207.0" stroke="#7a5a5a" stroke-width="0.8"/>
<line x1="445.3" y1="245.0" x2="450.3" y2="245.0" stroke="#7a5a5a" stroke-width="0.8"/>
<line x1="447.2" y1="223.0" x2="452.2" y2="223.0" stroke="#7a5a5a" stroke-width="0.8"/>
<line x1="447.2" y1="261.0" x2="452.2" y2="261.0" stroke="#7a5a5a" stroke-width="0.8"/>
<line x1="449.0" y1="241.5" x2="454.0" y2="241.5" stroke="#7a5a5a" stroke-width="0.8"/>
<line x1="449.0" y1="279.5" x2="454.0" y2="279.5" stroke="#7a5a5a" stroke-width="0.8"/>
<line x1="450.7" y1="259.8" x2="455.7" y2="259.8" stroke="#7a5a5a" stroke-width="0.8"/>
<line x1="450.7" y1="297.8" x2="455.7" y2="297.8" stroke="#7a5a5a" stroke-width="0.8"/>
<line x1="451.5" y1="269.0" x2="456.5" y2="269.0" stroke="#7a5a5a" stroke-width="0.8"/>
<line x1="451.5" y1="307.0" x2="456.5" y2="307.0" stroke="#7a5a5a" stroke-width="0.8"/>
<line x1="452.7" y1="277.8" x2="457.7" y2="277.8" stroke="#7a5a5a" stroke-width="0.8"/>
<line x1="452.7" y1="315.8" x2="457.7" y2="315.8" stroke="#7a5a5a" stroke-width="0.8"/>
<rect x="344.7" y="300.8" width="8.6" height="8.4" fill="#fff" stroke="#000" stroke-width="1.6"/>
<rect x="346.7" y="214.0" width="8.6" height="8.4" fill="#fff" stroke="#000" stroke-width="1.6"/>
<rect x="347.5" y="179.3" width="8.6" height="8.4" fill="#d9d8d4" stroke="#000" stroke-width="1.6"/>
<rect x="348.3" y="166.3" width="8.6" height="8.4" fill="#d9d8d4" stroke="#000" stroke-width="1.6"/>
<rect x="349.7" y="153.3" width="8.6" height="8.4" fill="#d9d8d4" stroke="#000" stroke-width="1.6"/>
<rect x="351.1" y="143.3" width="8.6" height="8.4" fill="#d9d8d4" stroke="#000" stroke-width="1.6"/>
<rect x="353.1" y="134.5" width="8.6" height="8.4" fill="#d9d8d4" stroke="#000" stroke-width="1.6"/>
<rect x="355.1" y="119.6" width="8.6" height="8.4" fill="#d9d8d4" stroke="#000" stroke-width="1.6"/>
<rect x="356.9" y="109.5" width="8.6" height="8.4" fill="#d9d8d4" stroke="#000" stroke-width="1.6"/>
<rect x="358.0" y="101.8" width="8.6" height="8.4" fill="#d9d8d4" stroke="#000" stroke-width="1.6"/>
<rect x="359.3" y="92.3" width="8.6" height="8.4" fill="none" stroke="#000" stroke-width="1.6"/>
<rect x="360.8" y="92.4" width="8.6" height="8.4" fill="none" stroke="#000" stroke-width="1.6"/>
<rect x="362.2" y="92.3" width="8.6" height="8.4" fill="none" stroke="#000" stroke-width="1.6"/>
<rect x="363.6" y="92.5" width="8.6" height="8.4" fill="none" stroke="#000" stroke-width="1.6"/>
<rect x="365.1" y="91.7" width="8.6" height="8.4" fill="none" stroke="#000" stroke-width="1.6"/>
<rect x="366.5" y="92.0" width="8.6" height="8.4" fill="none" stroke="#000" stroke-width="1.6"/>
<rect x="368.0" y="89.4" width="8.6" height="8.4" fill="none" stroke="#000" stroke-width="1.6"/>
<rect x="369.4" y="90.3" width="8.6" height="8.4" fill="none" stroke="#000" stroke-width="1.6"/>
<rect x="370.9" y="91.4" width="8.6" height="8.4" fill="none" stroke="#000" stroke-width="1.6"/>
<rect x="372.3" y="90.4" width="8.6" height="8.4" fill="none" stroke="#000" stroke-width="1.6"/>
<rect x="373.8" y="90.8" width="8.6" height="8.4" fill="none" stroke="#000" stroke-width="1.6"/>
<rect x="375.2" y="88.5" width="8.6" height="8.4" fill="none" stroke="#000" stroke-width="1.6"/>
<rect x="376.7" y="89.2" width="8.6" height="8.4" fill="none" stroke="#000" stroke-width="1.6"/>
<rect x="378.1" y="88.4" width="8.6" height="8.4" fill="none" stroke="#000" stroke-width="1.6"/>
<rect x="379.6" y="89.0" width="8.6" height="8.4" fill="none" stroke="#000" stroke-width="1.6"/>
<rect x="381.0" y="88.8" width="8.6" height="8.4" fill="none" stroke="#000" stroke-width="1.6"/>
<rect x="382.5" y="87.2" width="8.6" height="8.4" fill="none" stroke="#000" stroke-width="1.6"/>
<rect x="383.9" y="87.5" width="8.6" height="8.4" fill="none" stroke="#000" stroke-width="1.6"/>
<rect x="385.4" y="87.4" width="8.6" height="8.4" fill="none" stroke="#000" stroke-width="1.6"/>
<rect x="386.8" y="88.8" width="8.6" height="8.4" fill="none" stroke="#000" stroke-width="1.6"/>
<rect x="388.3" y="88.2" width="8.6" height="8.4" fill="none" stroke="#000" stroke-width="1.6"/>
<rect x="389.7" y="86.4" width="8.6" height="8.4" fill="none" stroke="#000" stroke-width="1.6"/>
<rect x="391.2" y="87.9" width="8.6" height="8.4" fill="none" stroke="#000" stroke-width="1.6"/>
<rect x="392.6" y="85.9" width="8.6" height="8.4" fill="none" stroke="#000" stroke-width="1.6"/>
<rect x="394.1" y="86.9" width="8.6" height="8.4" fill="none" stroke="#000" stroke-width="1.6"/>
<rect x="395.5" y="85.4" width="8.6" height="8.4" fill="none" stroke="#000" stroke-width="1.6"/>
<rect x="397.0" y="84.9" width="8.6" height="8.4" fill="none" stroke="#000" stroke-width="1.6"/>
<rect x="398.4" y="86.9" width="8.6" height="8.4" fill="none" stroke="#000" stroke-width="1.6"/>
<rect x="399.9" y="85.0" width="8.6" height="8.4" fill="none" stroke="#000" stroke-width="1.6"/>
<rect x="401.3" y="84.8" width="8.6" height="8.4" fill="none" stroke="#000" stroke-width="1.6"/>
<rect x="402.8" y="86.6" width="8.6" height="8.4" fill="none" stroke="#000" stroke-width="1.6"/>
<rect x="404.2" y="86.0" width="8.6" height="8.4" fill="none" stroke="#000" stroke-width="1.6"/>
<rect x="405.7" y="84.3" width="8.6" height="8.4" fill="none" stroke="#000" stroke-width="1.6"/>
<rect x="407.1" y="85.8" width="8.6" height="8.4" fill="none" stroke="#000" stroke-width="1.6"/>
<rect x="408.6" y="84.5" width="8.6" height="8.4" fill="none" stroke="#000" stroke-width="1.6"/>
<rect x="410.0" y="84.6" width="8.6" height="8.4" fill="none" stroke="#000" stroke-width="1.6"/>
<rect x="411.5" y="83.2" width="8.6" height="8.4" fill="none" stroke="#000" stroke-width="1.6"/>
<rect x="412.9" y="84.9" width="8.6" height="8.4" fill="none" stroke="#000" stroke-width="1.6"/>
<rect x="414.4" y="84.0" width="8.6" height="8.4" fill="none" stroke="#000" stroke-width="1.6"/>
<rect x="415.8" y="84.5" width="8.6" height="8.4" fill="none" stroke="#000" stroke-width="1.6"/>
<rect x="417.3" y="84.1" width="8.6" height="8.4" fill="none" stroke="#000" stroke-width="1.6"/>
<rect x="418.7" y="82.3" width="8.6" height="8.4" fill="none" stroke="#000" stroke-width="1.6"/>
<rect x="420.2" y="82.3" width="8.6" height="8.4" fill="none" stroke="#000" stroke-width="1.6"/>
<rect x="421.6" y="81.5" width="8.6" height="8.4" fill="none" stroke="#000" stroke-width="1.6"/>
<rect x="423.1" y="81.3" width="8.6" height="8.4" fill="none" stroke="#000" stroke-width="1.6"/>
<rect x="424.5" y="80.8" width="8.6" height="8.4" fill="none" stroke="#000" stroke-width="1.6"/>
<rect x="426.0" y="81.2" width="8.6" height="8.4" fill="none" stroke="#000" stroke-width="1.6"/>
<rect x="427.4" y="81.8" width="8.6" height="8.4" fill="none" stroke="#000" stroke-width="1.6"/>
<rect x="428.9" y="80.0" width="8.6" height="8.4" fill="none" stroke="#000" stroke-width="1.6"/>
<rect x="430.3" y="81.5" width="8.6" height="8.4" fill="none" stroke="#000" stroke-width="1.6"/>
<rect x="431.8" y="80.4" width="8.6" height="8.4" fill="none" stroke="#000" stroke-width="1.6"/>
<rect x="433.2" y="80.1" width="8.6" height="8.4" fill="none" stroke="#000" stroke-width="1.6"/>
<rect x="434.7" y="81.2" width="8.6" height="8.4" fill="none" stroke="#000" stroke-width="1.6"/>
<rect x="436.1" y="80.1" width="8.6" height="8.4" fill="none" stroke="#000" stroke-width="1.6"/>
<rect x="438.9" y="77.6" width="8.6" height="8.4" fill="#fff" stroke="#000" stroke-width="1.6"/>
<rect x="440.2" y="145.3" width="8.6" height="8.4" fill="#fff" stroke="#000" stroke-width="1.6"/>
<rect x="441.7" y="189.5" width="8.6" height="8.4" fill="#fff" stroke="#000" stroke-width="1.6"/>
<rect x="443.5" y="221.8" width="8.6" height="8.4" fill="#fff" stroke="#000" stroke-width="1.6"/>
<rect x="445.4" y="237.8" width="8.6" height="8.4" fill="#fff" stroke="#000" stroke-width="1.6"/>
<rect x="447.2" y="256.3" width="8.6" height="8.4" fill="#fff" stroke="#000" stroke-width="1.6"/>
<rect x="448.9" y="274.6" width="8.6" height="8.4" fill="#fff" stroke="#000" stroke-width="1.6"/>
<rect x="449.7" y="283.8" width="8.6" height="8.4" fill="#fff" stroke="#000" stroke-width="1.6"/>
<rect x="450.9" y="292.6" width="8.6" height="8.4" fill="#fff" stroke="#000" stroke-width="1.6"/>
<rect x="452.2" y="306.8" width="8.6" height="8.4" fill="none" stroke="#000" stroke-width="1.6"/>
<rect x="453.6" y="307.0" width="8.6" height="8.4" fill="none" stroke="#000" stroke-width="1.6"/>
<rect x="455.1" y="305.0" width="8.6" height="8.4" fill="none" stroke="#000" stroke-width="1.6"/>
<rect x="456.5" y="305.2" width="8.6" height="8.4" fill="none" stroke="#000" stroke-width="1.6"/>
<rect x="458.0" y="305.9" width="8.6" height="8.4" fill="none" stroke="#000" stroke-width="1.6"/>
<rect x="459.4" y="306.9" width="8.6" height="8.4" fill="none" stroke="#000" stroke-width="1.6"/>
<rect x="460.9" y="304.7" width="8.6" height="8.4" fill="none" stroke="#000" stroke-width="1.6"/>
<rect x="462.3" y="307.1" width="8.6" height="8.4" fill="none" stroke="#000" stroke-width="1.6"/>
<rect x="463.8" y="307.4" width="8.6" height="8.4" fill="none" stroke="#000" stroke-width="1.6"/>
<rect x="465.2" y="307.7" width="8.6" height="8.4" fill="none" stroke="#000" stroke-width="1.6"/>
<rect x="466.7" y="304.8" width="8.6" height="8.4" fill="none" stroke="#000" stroke-width="1.6"/>
<rect x="468.1" y="308.2" width="8.6" height="8.4" fill="none" stroke="#000" stroke-width="1.6"/>
<rect x="469.6" y="305.2" width="8.6" height="8.4" fill="none" stroke="#000" stroke-width="1.6"/>
<rect x="471.0" y="306.2" width="8.6" height="8.4" fill="none" stroke="#000" stroke-width="1.6"/>
<rect x="472.5" y="307.3" width="8.6" height="8.4" fill="none" stroke="#000" stroke-width="1.6"/>
<rect x="473.9" y="308.5" width="8.6" height="8.4" fill="none" stroke="#000" stroke-width="1.6"/>
<rect x="475.4" y="306.5" width="8.6" height="8.4" fill="none" stroke="#000" stroke-width="1.6"/>
<rect x="476.8" y="308.6" width="8.6" height="8.4" fill="none" stroke="#000" stroke-width="1.6"/>
<rect x="478.3" y="307.4" width="8.6" height="8.4" fill="none" stroke="#000" stroke-width="1.6"/>
<rect x="479.7" y="306.6" width="8.6" height="8.4" fill="none" stroke="#000" stroke-width="1.6"/>
<rect x="481.2" y="306.7" width="8.6" height="8.4" fill="none" stroke="#000" stroke-width="1.6"/>
<rect x="482.6" y="306.3" width="8.6" height="8.4" fill="none" stroke="#000" stroke-width="1.6"/>
<rect x="484.1" y="306.0" width="8.6" height="8.4" fill="none" stroke="#000" stroke-width="1.6"/>
<rect x="485.5" y="306.3" width="8.6" height="8.4" fill="none" stroke="#000" stroke-width="1.6"/>
<rect x="487.0" y="308.3" width="8.6" height="8.4" fill="none" stroke="#000" stroke-width="1.6"/>
<rect x="488.4" y="309.5" width="8.6" height="8.4" fill="none" stroke="#000" stroke-width="1.6"/>
<rect x="489.9" y="306.5" width="8.6" height="8.4" fill="none" stroke="#000" stroke-width="1.6"/>
<rect x="491.3" y="306.2" width="8.6" height="8.4" fill="none" stroke="#000" stroke-width="1.6"/>
<rect x="492.8" y="309.6" width="8.6" height="8.4" fill="none" stroke="#000" stroke-width="1.6"/>
<rect x="494.2" y="308.0" width="8.6" height="8.4" fill="none" stroke="#000" stroke-width="1.6"/>
<rect x="495.7" y="307.6" width="8.6" height="8.4" fill="none" stroke="#000" stroke-width="1.6"/>
<rect x="497.1" y="307.0" width="8.6" height="8.4" fill="none" stroke="#000" stroke-width="1.6"/>
<rect x="498.6" y="308.4" width="8.6" height="8.4" fill="none" stroke="#000" stroke-width="1.6"/>
<rect x="500.0" y="309.3" width="8.6" height="8.4" fill="none" stroke="#000" stroke-width="1.6"/>
<rect x="501.5" y="308.0" width="8.6" height="8.4" fill="none" stroke="#000" stroke-width="1.6"/>
<rect x="502.9" y="307.9" width="8.6" height="8.4" fill="none" stroke="#000" stroke-width="1.6"/>
<rect x="504.4" y="306.6" width="8.6" height="8.4" fill="none" stroke="#000" stroke-width="1.6"/>
<rect x="505.8" y="309.7" width="8.6" height="8.4" fill="none" stroke="#000" stroke-width="1.6"/>
<rect x="507.3" y="306.6" width="8.6" height="8.4" fill="none" stroke="#000" stroke-width="1.6"/>
<rect x="508.7" y="308.3" width="8.6" height="8.4" fill="none" stroke="#000" stroke-width="1.6"/>
<rect x="510.2" y="309.6" width="8.6" height="8.4" fill="none" stroke="#000" stroke-width="1.6"/>
<rect x="511.6" y="307.1" width="8.6" height="8.4" fill="none" stroke="#000" stroke-width="1.6"/>
<rect x="513.1" y="309.3" width="8.6" height="8.4" fill="none" stroke="#000" stroke-width="1.6"/>
<rect x="514.5" y="310.1" width="8.6" height="8.4" fill="none" stroke="#000" stroke-width="1.6"/>
<rect x="516.0" y="309.0" width="8.6" height="8.4" fill="none" stroke="#000" stroke-width="1.6"/>
<rect x="517.4" y="309.6" width="8.6" height="8.4" fill="none" stroke="#000" stroke-width="1.6"/>
<rect x="518.9" y="307.1" width="8.6" height="8.4" fill="none" stroke="#000" stroke-width="1.6"/>
<rect x="520.4" y="308.3" width="8.6" height="8.4" fill="none" stroke="#000" stroke-width="1.6"/>
<rect x="521.8" y="307.3" width="8.6" height="8.4" fill="none" stroke="#000" stroke-width="1.6"/>
<rect x="523.3" y="309.9" width="8.6" height="8.4" fill="none" stroke="#000" stroke-width="1.6"/>
<rect x="524.7" y="307.9" width="8.6" height="8.4" fill="none" stroke="#000" stroke-width="1.6"/>
<rect x="526.2" y="308.5" width="8.6" height="8.4" fill="none" stroke="#000" stroke-width="1.6"/>
<rect x="527.6" y="310.5" width="8.6" height="8.4" fill="none" stroke="#000" stroke-width="1.6"/>
<rect x="529.1" y="310.0" width="8.6" height="8.4" fill="none" stroke="#000" stroke-width="1.6"/>
<rect x="530.5" y="310.5" width="8.6" height="8.4" fill="none" stroke="#000" stroke-width="1.6"/>
<rect x="532.0" y="308.6" width="8.6" height="8.4" fill="none" stroke="#000" stroke-width="1.6"/>
<rect x="534.7" y="310.6" width="8.6" height="8.4" fill="#fff" stroke="#000" stroke-width="1.6"/>
</g>
<path fill="none" stroke="#0000ff" stroke-width="4.0" stroke-linejoin="round" d="M347.80,320.00 C347.88,315.00 348.10,300.00 348.30,290.00 C348.50,280.00 348.72,268.33 349.00,260.00 C349.28,251.67 349.67,246.67 350.00,240.00 C350.33,233.33 350.60,228.33 351.00,220.00 C351.40,211.67 352.07,196.67 352.40,190.00 C352.73,183.33 352.67,186.67 353.00,180.00 C353.33,173.33 353.83,158.33 354.40,150.00 C354.97,141.67 355.63,135.67 356.40,130.00 C357.17,124.33 358.15,119.75 359.00,116.00 C359.85,112.25 360.60,110.17 361.50,107.50 C362.40,104.83 363.40,102.08 364.40,100.00 C365.40,97.92 366.23,96.53 367.50,95.00 C368.77,93.47 370.25,91.87 372.00,90.80 C373.75,89.73 375.00,89.10 378.00,88.60 C381.00,88.10 383.00,87.98 390.00,87.80 C397.00,87.62 411.03,87.55 420.00,87.50 C428.97,87.45 439.83,87.50 443.80,87.50 C443.88,91.25 444.12,101.25 444.30,110.00 C444.48,118.75 444.68,130.00 444.90,140.00 C445.12,150.00 445.33,160.00 445.60,170.00 C445.87,180.00 446.05,190.00 446.50,200.00 C446.95,210.00 447.62,220.67 448.30,230.00 C448.98,239.33 449.90,249.33 450.60,256.00 C451.30,262.67 451.85,265.83 452.50,270.00 C453.15,274.17 453.75,277.33 454.50,281.00 C455.25,284.67 456.17,288.92 457.00,292.00 C457.83,295.08 458.58,297.37 459.50,299.50 C460.42,301.63 461.42,303.35 462.50,304.80 C463.58,306.25 464.75,307.30 466.00,308.20 C467.25,309.10 468.33,309.65 470.00,310.20 C471.67,310.75 472.67,311.20 476.00,311.50 C479.33,311.80 478.50,311.92 490.00,312.00 C501.50,312.08 535.83,312.00 545.00,312.00" clip-path="url(#cc)"/>
<rect x="347.3" y="21.0" width="192.7" height="315.7" fill="none" stroke="#a3a3a3" stroke-width="0.8"/>
<line x1="341.8" y1="336.70" x2="347.3" y2="336.70" stroke="#5a5a5a" stroke-width="0.9"/><line x1="535.0" y1="336.70" x2="540.0" y2="336.70" stroke="#5a5a5a" stroke-width="0.9"/>
<line x1="341.8" y1="257.77" x2="347.3" y2="257.77" stroke="#5a5a5a" stroke-width="0.9"/><line x1="535.0" y1="257.77" x2="540.0" y2="257.77" stroke="#5a5a5a" stroke-width="0.9"/>
<line x1="341.8" y1="178.84" x2="347.3" y2="178.84" stroke="#5a5a5a" stroke-width="0.9"/><line x1="535.0" y1="178.84" x2="540.0" y2="178.84" stroke="#5a5a5a" stroke-width="0.9"/>
<line x1="341.8" y1="99.91" x2="347.3" y2="99.91" stroke="#5a5a5a" stroke-width="0.9"/><line x1="535.0" y1="99.91" x2="540.0" y2="99.91" stroke="#5a5a5a" stroke-width="0.9"/>
<line x1="341.8" y1="20.98" x2="347.3" y2="20.98" stroke="#5a5a5a" stroke-width="0.9"/><line x1="535.0" y1="20.98" x2="540.0" y2="20.98" stroke="#5a5a5a" stroke-width="0.9"/>
<line x1="344.3" y1="297.24" x2="347.3" y2="297.24" stroke="#5a5a5a" stroke-width="0.9"/><line x1="537.0" y1="297.24" x2="540.0" y2="297.24" stroke="#5a5a5a" stroke-width="0.9"/>
<line x1="344.3" y1="218.30" x2="347.3" y2="218.30" stroke="#5a5a5a" stroke-width="0.9"/><line x1="537.0" y1="218.30" x2="540.0" y2="218.30" stroke="#5a5a5a" stroke-width="0.9"/>
<line x1="344.3" y1="139.37" x2="347.3" y2="139.37" stroke="#5a5a5a" stroke-width="0.9"/><line x1="537.0" y1="139.37" x2="540.0" y2="139.37" stroke="#5a5a5a" stroke-width="0.9"/>
<line x1="344.3" y1="60.44" x2="347.3" y2="60.44" stroke="#5a5a5a" stroke-width="0.9"/><line x1="537.0" y1="60.44" x2="540.0" y2="60.44" stroke="#5a5a5a" stroke-width="0.9"/>
<line x1="347.30" y1="336.7" x2="347.30" y2="342.2" stroke="#5a5a5a" stroke-width="0.9"/><line x1="347.30" y1="21.0" x2="347.30" y2="26.0" stroke="#5a5a5a" stroke-width="0.9"/>
<line x1="403.30" y1="336.7" x2="403.30" y2="342.2" stroke="#5a5a5a" stroke-width="0.9"/><line x1="403.30" y1="21.0" x2="403.30" y2="26.0" stroke="#5a5a5a" stroke-width="0.9"/>
<line x1="459.30" y1="336.7" x2="459.30" y2="342.2" stroke="#5a5a5a" stroke-width="0.9"/><line x1="459.30" y1="21.0" x2="459.30" y2="26.0" stroke="#5a5a5a" stroke-width="0.9"/>
<line x1="515.30" y1="336.7" x2="515.30" y2="342.2" stroke="#5a5a5a" stroke-width="0.9"/><line x1="515.30" y1="21.0" x2="515.30" y2="26.0" stroke="#5a5a5a" stroke-width="0.9"/>
<line x1="375.30" y1="336.7" x2="375.30" y2="339.7" stroke="#5a5a5a" stroke-width="0.9"/><line x1="375.30" y1="21.0" x2="375.30" y2="24.0" stroke="#5a5a5a" stroke-width="0.9"/>
<line x1="431.30" y1="336.7" x2="431.30" y2="339.7" stroke="#5a5a5a" stroke-width="0.9"/><line x1="431.30" y1="21.0" x2="431.30" y2="24.0" stroke="#5a5a5a" stroke-width="0.9"/>
<line x1="487.30" y1="336.7" x2="487.30" y2="339.7" stroke="#5a5a5a" stroke-width="0.9"/><line x1="487.30" y1="21.0" x2="487.30" y2="24.0" stroke="#5a5a5a" stroke-width="0.9"/>
<!-- legend -->
<rect x="421.6" y="22.3" width="116.6" height="35.2" fill="#fff" stroke="#a0a0a0" stroke-width="0.8"/>
<rect x="433.9" y="28.3" width="8.9" height="8.2" fill="#fff" stroke="#000" stroke-width="1.6"/>
<line x1="424.4" y1="48.5" x2="452.7" y2="48.5" stroke="#0000ff" stroke-width="4.4" stroke-linecap="round"/>
<text class="s" x="458" y="36.5" font-size="12.3">Data</text>
<text class="s" x="458" y="52.6" font-size="13">Calculations</text>
<!-- panel labels -->
<text class="r" x="223.6" y="53.1" font-size="42">(</text>
<text class="r" x="239.3" y="51.4" font-size="39">a</text>
<text class="r" x="259.2" y="53.1" font-size="42">)</text>
<text class="r" x="487.1" y="89.5" font-size="42">(</text>
<text class="r" transform="translate(502.4,88.6) scale(1.07,1)" font-size="40">b</text>
<text class="r" x="526.6" y="89.5" font-size="42">)</text>
<!-- panel a annotations -->
<g class="s" fill="#ff0000" stroke="#ff0000" stroke-width="0.35" font-size="15" text-anchor="middle">
<text x="223.8" y="89.8" textLength="17.2" lengthAdjust="spacingAndGlyphs">60</text>
<text x="223.5" y="109.8" textLength="85.2" lengthAdjust="spacingAndGlyphs">Depression</text>
<text x="227.6" y="129.1" textLength="49.6" lengthAdjust="spacingAndGlyphs">Pulses</text>
<text x="226.2" y="146.3" textLength="75" lengthAdjust="spacingAndGlyphs">1 <tspan class="m">μ</tspan>s delay</text>
</g>
<g class="s" fill="#1c1cff" stroke="#1c1cff" stroke-width="0.35" font-size="15" text-anchor="middle">
<text x="129.5" y="212.8" textLength="16.8" lengthAdjust="spacingAndGlyphs">60</text>
<text x="130.7" y="232.8" textLength="92.2" lengthAdjust="spacingAndGlyphs">Potentiation</text>
<text x="132.4" y="251.9" textLength="49.7" lengthAdjust="spacingAndGlyphs">Pulses</text>
<text x="130.2" y="267.6" textLength="93.8" lengthAdjust="spacingAndGlyphs">100 ns width</text>
</g>
<!-- tick labels a -->
<g class="s" font-size="25" text-anchor="end">
<text x="69.5" y="59.7">1.0</text>
<text x="70" y="123.8">0.5</text>
<text x="70" y="186.3">0.0</text>
<text x="70" y="249.5">-0.5</text>
<text x="70" y="312.6">-1.0</text>
</g>
<g class="s" font-size="25" text-anchor="middle">
<text x="80.5" y="367">0</text>
<text x="136.5" y="367">80</text>
<text x="192.5" y="367">160</text>
<text x="248.5" y="367">240</text>
<text x="177.6" y="389.5" textLength="112" lengthAdjust="spacing">Time (<tspan class="m">μ</tspan>s)</text>
</g>
<text class="s" font-size="25.3" transform="translate(25,299.5) rotate(-90)" textLength="241" lengthAdjust="spacing">Pulse Amplitude (V)</text>
<!-- tick labels b -->
<g class="s" font-size="25" text-anchor="end">
<text x="336.5" y="28.5">1.2</text>
<text x="337.5" y="107.5">0.9</text>
<text x="337" y="188">0.6</text>
<text x="337" y="266.8">0.3</text>
<text x="337" y="345.3">0.0</text>
</g>
<g class="s" font-size="25" text-anchor="middle">
<text x="347.3" y="367">0</text>
<text x="403.3" y="367">80</text>
<text x="459.3" y="367">160</text>
<text x="515.3" y="367">240</text>
<text x="438.5" y="387.5" textLength="112.5" lengthAdjust="spacing">Time (<tspan class="m">μ</tspan>s)</text>
</g>
<text class="s" font-size="25.3" transform="translate(296.7,277.5) rotate(-90)" textLength="218.5" lengthAdjust="spacing">Conductance (<tspan class="m">μ</tspan>S)</text>
</svg>
</body></html>
